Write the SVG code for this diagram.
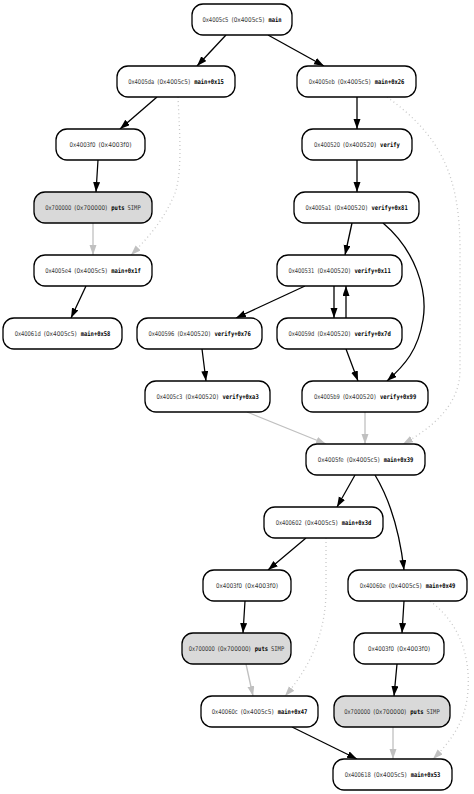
<svg xmlns="http://www.w3.org/2000/svg" width="474" height="794" viewBox="0 0 474 794">
<style>
.n rect{fill:#fff;stroke:#000;stroke-width:1.3}
.g rect{fill:#d9d9d9}
text{fill:#333}
.a{font-family:"DejaVu Sans Condensed","DejaVu Sans",sans-serif;font-size:6.5px}
.f{font-family:"DejaVu Sans Mono",monospace;font-weight:bold;font-size:6.5px;fill:#000}
.s{font-family:"DejaVu Sans Mono",monospace;font-size:6.5px}
.e{fill:none;stroke:#000;stroke-width:1.3;marker-end:url(#ab)}
.gr{fill:none;stroke:#c0c0c0;stroke-width:1.3;marker-end:url(#ag)}
.d{fill:none;stroke:#c8c8c8;stroke-width:1.3;stroke-dasharray:1 3;marker-end:url(#ag)}
</style>
<defs>
<marker id="ab" markerUnits="userSpaceOnUse" markerWidth="10" markerHeight="8" refX="10" refY="3.5" orient="auto"><path d="M0,0L10,3.5L0,7z" fill="#000"/></marker>
<marker id="ag" markerUnits="userSpaceOnUse" markerWidth="10" markerHeight="8" refX="10" refY="3.5" orient="auto"><path d="M0,0L10,3.5L0,7z" fill="#c0c0c0"/></marker>
</defs>
<rect width="474" height="794" fill="#fff"/>
<g id="edges">
<path class="e" d="M226,35L197,66"/>
<path class="e" d="M268,35L324,66"/>
<path class="e" d="M157,97L120,129"/>
<path class="d" d="M178,97C180,140 183,180 172,200C162,222 146,240 131,255"/>
<path class="e" d="M98,160L96,192"/>
<path class="gr" d="M93,223L93,255"/>
<path class="e" d="M86,286L71,318"/>
<path class="e" d="M357,97L357,129"/>
<path class="d" d="M387,97C440,135 460,175 460,250L460,370C460,405 432,428 403,444"/>
<path class="e" d="M357,160L357,192"/>
<path class="e" d="M352,223L345,255"/>
<path class="e" d="M383,223C415,250 428,290 423,320C418,350 405,365 387,381"/>
<path class="e" d="M305,286L236,318"/>
<path class="e" d="M334,286L334,318"/>
<path class="e" d="M346,318L346,286"/>
<path class="e" d="M202,349L206,381"/>
<path class="e" d="M346,349L358,381"/>
<path class="gr" d="M247,412L326,444"/>
<path class="gr" d="M365,412L365,444"/>
<path class="e" d="M355,475L337,507"/>
<path class="e" d="M375,475C390,500 400,535 404,570"/>
<path class="e" d="M306,538L268,570"/>
<path class="d" d="M326,538L326,590C326,630 312,665 285,696"/>
<path class="e" d="M245,601L243,633"/>
<path class="gr" d="M246,664L253,696"/>
<path class="e" d="M404,601L402,633"/>
<path class="d" d="M430,601C462,625 470,660 468,690C466,722 450,742 433,759"/>
<path class="e" d="M397,664L394,696"/>
<path class="gr" d="M393,727L393,759"/>
<path class="e" d="M292,727L357,759"/>
</g>
<g id="n1" class="n"><rect x="192" y="4" width="100" height="31" rx="11"/><text y="22"><tspan class="a" x="202.4" textLength="26" lengthAdjust="spacingAndGlyphs">0x4005c5</tspan><tspan class="a" x="231.4" textLength="33" lengthAdjust="spacingAndGlyphs">(0x4005c5)</tspan><tspan class="f" x="268.4" textLength="13.2" lengthAdjust="spacingAndGlyphs">main</tspan></text></g>
<g id="n2" class="n"><rect x="117" y="66" width="118" height="31" rx="11"/><text y="84"><tspan class="a" x="128.2" textLength="26" lengthAdjust="spacingAndGlyphs">0x4005da</tspan><tspan class="a" x="157.2" textLength="33" lengthAdjust="spacingAndGlyphs">(0x4005c5)</tspan><tspan class="f" x="194.2" textLength="29.7" lengthAdjust="spacingAndGlyphs">main+0x15</tspan></text></g>
<g id="n3" class="n"><rect x="297" y="66" width="119" height="31" rx="11"/><text y="84"><tspan class="a" x="308.7" textLength="26" lengthAdjust="spacingAndGlyphs">0x4005eb</tspan><tspan class="a" x="337.7" textLength="33" lengthAdjust="spacingAndGlyphs">(0x4005c5)</tspan><tspan class="f" x="374.7" textLength="29.7" lengthAdjust="spacingAndGlyphs">main+0x26</tspan></text></g>
<g id="n4" class="n"><rect x="56" y="129" width="89" height="31" rx="11"/><text y="147"><tspan class="a" x="69.5" textLength="26" lengthAdjust="spacingAndGlyphs">0x4003f0</tspan><tspan class="a" x="98.5" textLength="33" lengthAdjust="spacingAndGlyphs">(0x4003f0)</tspan></text></g>
<g id="n5" class="n"><rect x="302" y="129" width="110" height="31" rx="11"/><text y="147"><tspan class="a" x="314.1" textLength="26" lengthAdjust="spacingAndGlyphs">0x400520</tspan><tspan class="a" x="343.1" textLength="33" lengthAdjust="spacingAndGlyphs">(0x400520)</tspan><tspan class="f" x="380.1" textLength="19.8" lengthAdjust="spacingAndGlyphs">verify</tspan></text></g>
<g id="n6" class="n g"><rect x="34" y="192" width="118" height="31" rx="11"/><text y="210"><tspan class="a" x="45.3" textLength="26" lengthAdjust="spacingAndGlyphs">0x700000</tspan><tspan class="a" x="74.3" textLength="33" lengthAdjust="spacingAndGlyphs">(0x700000)</tspan><tspan class="f" x="111.3" textLength="13.2" lengthAdjust="spacingAndGlyphs">puts</tspan><tspan class="s" x="127.5" textLength="13.2" lengthAdjust="spacingAndGlyphs">SIMP</tspan></text></g>
<g id="n7" class="n"><rect x="294" y="192" width="125" height="31" rx="11"/><text y="210"><tspan class="a" x="305.4" textLength="26" lengthAdjust="spacingAndGlyphs">0x4005a1</tspan><tspan class="a" x="334.4" textLength="33" lengthAdjust="spacingAndGlyphs">(0x400520)</tspan><tspan class="f" x="371.4" textLength="36.3" lengthAdjust="spacingAndGlyphs">verify+0x81</tspan></text></g>
<g id="n8" class="n"><rect x="34" y="255" width="118" height="31" rx="11"/><text y="273"><tspan class="a" x="45.2" textLength="26" lengthAdjust="spacingAndGlyphs">0x4005e4</tspan><tspan class="a" x="74.2" textLength="33" lengthAdjust="spacingAndGlyphs">(0x4005c5)</tspan><tspan class="f" x="111.2" textLength="29.7" lengthAdjust="spacingAndGlyphs">main+0x1f</tspan></text></g>
<g id="n9" class="n"><rect x="277" y="255" width="125" height="31" rx="11"/><text y="273"><tspan class="a" x="288.4" textLength="26" lengthAdjust="spacingAndGlyphs">0x400531</tspan><tspan class="a" x="317.4" textLength="33" lengthAdjust="spacingAndGlyphs">(0x400520)</tspan><tspan class="f" x="354.4" textLength="36.3" lengthAdjust="spacingAndGlyphs">verify+0x11</tspan></text></g>
<g id="n10" class="n"><rect x="3" y="318" width="119" height="31" rx="11"/><text y="336"><tspan class="a" x="14.7" textLength="26" lengthAdjust="spacingAndGlyphs">0x40061d</tspan><tspan class="a" x="43.7" textLength="33" lengthAdjust="spacingAndGlyphs">(0x4005c5)</tspan><tspan class="f" x="80.7" textLength="29.7" lengthAdjust="spacingAndGlyphs">main+0x58</tspan></text></g>
<g id="n11" class="n"><rect x="137" y="318" width="125" height="31" rx="11"/><text y="336"><tspan class="a" x="148.4" textLength="26" lengthAdjust="spacingAndGlyphs">0x400596</tspan><tspan class="a" x="177.4" textLength="33" lengthAdjust="spacingAndGlyphs">(0x400520)</tspan><tspan class="f" x="214.4" textLength="36.3" lengthAdjust="spacingAndGlyphs">verify+0x76</tspan></text></g>
<g id="n12" class="n"><rect x="277" y="318" width="125" height="31" rx="11"/><text y="336"><tspan class="a" x="288.4" textLength="26" lengthAdjust="spacingAndGlyphs">0x40059d</tspan><tspan class="a" x="317.4" textLength="33" lengthAdjust="spacingAndGlyphs">(0x400520)</tspan><tspan class="f" x="354.4" textLength="36.3" lengthAdjust="spacingAndGlyphs">verify+0x7d</tspan></text></g>
<g id="n13" class="n"><rect x="145" y="381" width="125" height="31" rx="11"/><text y="399"><tspan class="a" x="156.4" textLength="26" lengthAdjust="spacingAndGlyphs">0x4005c3</tspan><tspan class="a" x="185.4" textLength="33" lengthAdjust="spacingAndGlyphs">(0x400520)</tspan><tspan class="f" x="222.4" textLength="36.3" lengthAdjust="spacingAndGlyphs">verify+0xa3</tspan></text></g>
<g id="n14" class="n"><rect x="302" y="381" width="126" height="31" rx="11"/><text y="399"><tspan class="a" x="313.9" textLength="26" lengthAdjust="spacingAndGlyphs">0x4005b9</tspan><tspan class="a" x="342.9" textLength="33" lengthAdjust="spacingAndGlyphs">(0x400520)</tspan><tspan class="f" x="379.9" textLength="36.3" lengthAdjust="spacingAndGlyphs">verify+0x99</tspan></text></g>
<g id="n15" class="n"><rect x="306" y="444" width="119" height="31" rx="11"/><text y="462"><tspan class="a" x="317.7" textLength="26" lengthAdjust="spacingAndGlyphs">0x4005fe</tspan><tspan class="a" x="346.7" textLength="33" lengthAdjust="spacingAndGlyphs">(0x4005c5)</tspan><tspan class="f" x="383.7" textLength="29.7" lengthAdjust="spacingAndGlyphs">main+0x39</tspan></text></g>
<g id="n16" class="n"><rect x="264" y="507" width="119" height="31" rx="11"/><text y="525"><tspan class="a" x="275.7" textLength="26" lengthAdjust="spacingAndGlyphs">0x400602</tspan><tspan class="a" x="304.7" textLength="33" lengthAdjust="spacingAndGlyphs">(0x4005c5)</tspan><tspan class="f" x="341.7" textLength="29.7" lengthAdjust="spacingAndGlyphs">main+0x3d</tspan></text></g>
<g id="n17" class="n"><rect x="203" y="570" width="88" height="31" rx="11"/><text y="588"><tspan class="a" x="216" textLength="26" lengthAdjust="spacingAndGlyphs">0x4003f0</tspan><tspan class="a" x="245" textLength="33" lengthAdjust="spacingAndGlyphs">(0x4003f0)</tspan></text></g>
<g id="n18" class="n"><rect x="348" y="570" width="119" height="31" rx="11"/><text y="588"><tspan class="a" x="359.7" textLength="26" lengthAdjust="spacingAndGlyphs">0x40060e</tspan><tspan class="a" x="388.7" textLength="33" lengthAdjust="spacingAndGlyphs">(0x4005c5)</tspan><tspan class="f" x="425.7" textLength="29.7" lengthAdjust="spacingAndGlyphs">main+0x49</tspan></text></g>
<g id="n19" class="n g"><rect x="182" y="633" width="109" height="31" rx="11"/><text y="651"><tspan class="a" x="188.8" textLength="26" lengthAdjust="spacingAndGlyphs">0x700000</tspan><tspan class="a" x="217.8" textLength="33" lengthAdjust="spacingAndGlyphs">(0x700000)</tspan><tspan class="f" x="254.8" textLength="13.2" lengthAdjust="spacingAndGlyphs">puts</tspan><tspan class="s" x="271" textLength="13.2" lengthAdjust="spacingAndGlyphs">SIMP</tspan></text></g>
<g id="n20" class="n"><rect x="354" y="633" width="90" height="31" rx="11"/><text y="651"><tspan class="a" x="368" textLength="26" lengthAdjust="spacingAndGlyphs">0x4003f0</tspan><tspan class="a" x="397" textLength="33" lengthAdjust="spacingAndGlyphs">(0x4003f0)</tspan></text></g>
<g id="n21" class="n"><rect x="201" y="696" width="117" height="31" rx="11"/><text y="714"><tspan class="a" x="211.7" textLength="26" lengthAdjust="spacingAndGlyphs">0x40060c</tspan><tspan class="a" x="240.7" textLength="33" lengthAdjust="spacingAndGlyphs">(0x4005c5)</tspan><tspan class="f" x="277.7" textLength="29.7" lengthAdjust="spacingAndGlyphs">main+0x47</tspan></text></g>
<g id="n22" class="n g"><rect x="334" y="696" width="116" height="31" rx="11"/><text y="714"><tspan class="a" x="344.3" textLength="26" lengthAdjust="spacingAndGlyphs">0x700000</tspan><tspan class="a" x="373.3" textLength="33" lengthAdjust="spacingAndGlyphs">(0x700000)</tspan><tspan class="f" x="410.3" textLength="13.2" lengthAdjust="spacingAndGlyphs">puts</tspan><tspan class="s" x="426.5" textLength="13.2" lengthAdjust="spacingAndGlyphs">SIMP</tspan></text></g>
<g id="n23" class="n"><rect x="333" y="759" width="119" height="31" rx="11"/><text y="777"><tspan class="a" x="344.7" textLength="26" lengthAdjust="spacingAndGlyphs">0x400618</tspan><tspan class="a" x="373.7" textLength="33" lengthAdjust="spacingAndGlyphs">(0x4005c5)</tspan><tspan class="f" x="410.7" textLength="29.7" lengthAdjust="spacingAndGlyphs">main+0x53</tspan></text></g>
</svg>
